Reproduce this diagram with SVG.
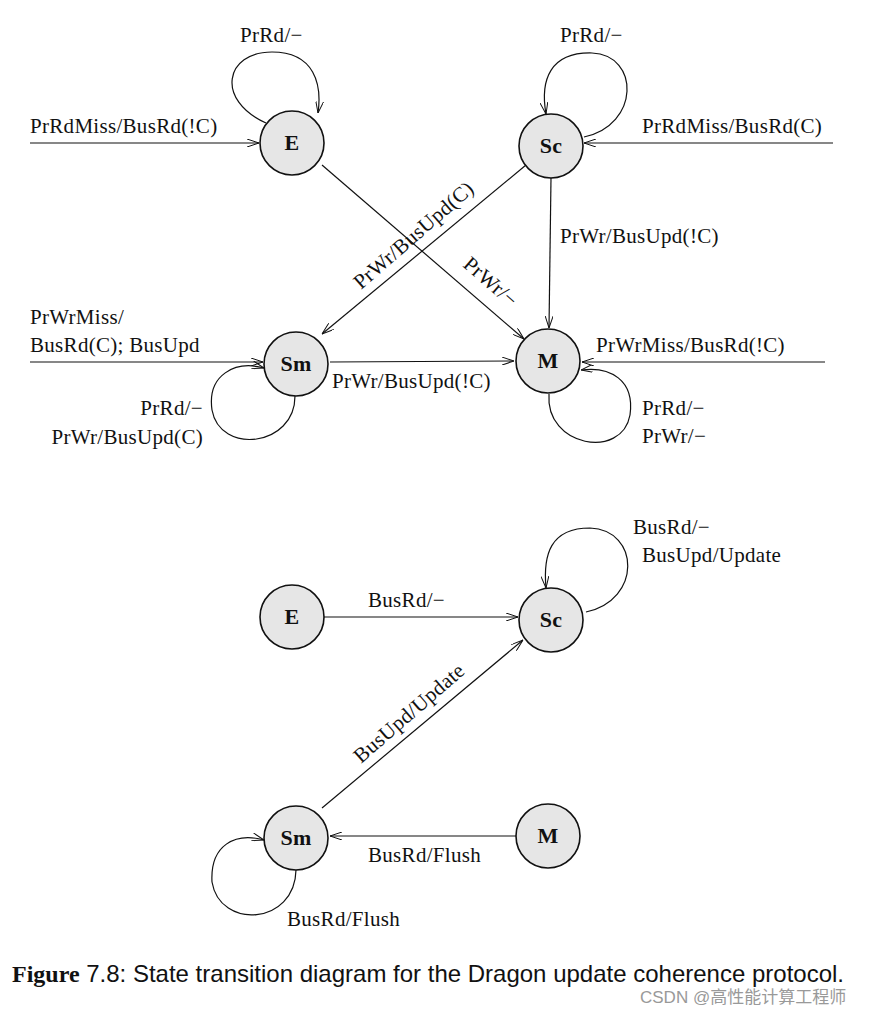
<svg xmlns="http://www.w3.org/2000/svg" width="889" height="1016" viewBox="0 0 889 1016">
<style>
text{font-family:"Liberation Serif",serif;font-size:21px;letter-spacing:0.3px;fill:#111}
.n circle{fill:#e6e6e6;stroke:#111;stroke-width:1.6}
.n text{font-weight:bold;font-size:22px;text-anchor:middle}
.c path,.c line{fill:none;stroke:#111;stroke-width:1.2;marker-end:url(#a)}
</style>
<defs><marker id="a" viewBox="0 0 12 8" refX="12" refY="4" markerWidth="12" markerHeight="8" orient="auto" markerUnits="userSpaceOnUse"><path d="M0,0 L12,4 L0,8" fill="none" stroke="#111" stroke-width="1"/></marker></defs>
<rect width="889" height="1016" fill="#fff"/>
<g class="c">
<line x1="30" y1="143" x2="259" y2="143"/>
<path d="M266,123 C215,100 225,52 272,52 C315,52 322,85 318,113"/>
<path d="M584,137 C640,125 640,55 592,53 C550,52 540,80 546,114"/>
<line x1="833" y1="143" x2="584" y2="143"/>
<line x1="322" y1="165" x2="524" y2="339"/>
<line x1="526" y1="165" x2="322" y2="334"/>
<line x1="551" y1="178" x2="549" y2="328"/>
<line x1="30" y1="362" x2="263" y2="362"/>
<line x1="330" y1="362" x2="514" y2="361"/>
<line x1="825" y1="362" x2="582" y2="362"/>
<path d="M295,396 C295,447 220,455 212,410 C207,375 235,360 264,368"/>
<path d="M549,394 C545,447 622,460 630,415 C635,380 610,366 581,370"/>
<path d="M586,612 C642,600 640,530 590,528 C550,528 543,555 546,588"/>
<line x1="324" y1="617" x2="518" y2="617"/>
<line x1="322" y1="808" x2="523" y2="640"/>
<line x1="516" y1="836" x2="330" y2="836"/>
<path d="M296,870 C295,925 220,930 212,882 C210,845 235,832 264,840"/>
</g>
<g id="E1" class="n"><circle cx="292" cy="143" r="32"/><text x="292" y="150">E</text></g>
<g id="Sc1" class="n"><circle cx="551" cy="146" r="32"/><text x="551" y="153">Sc</text></g>
<g id="Sm1" class="n"><circle cx="296" cy="364" r="32"/><text x="296" y="371">Sm</text></g>
<g id="M1" class="n"><circle cx="548" cy="361" r="32"/><text x="548" y="368">M</text></g>
<g id="E2" class="n"><circle cx="292" cy="617" r="32"/><text x="292" y="624">E</text></g>
<g id="Sc2" class="n"><circle cx="551" cy="620" r="32"/><text x="551" y="627">Sc</text></g>
<g id="Sm2" class="n"><circle cx="296" cy="838" r="32"/><text x="296" y="845">Sm</text></g>
<g id="M2" class="n"><circle cx="548" cy="836" r="32"/><text x="548" y="843">M</text></g>
<g>
<text x="30" y="133">PrRdMiss/BusRd(!C)</text>
<text x="240" y="42">PrRd/−</text>
<text x="560" y="42">PrRd/−</text>
<text x="642" y="133">PrRdMiss/BusRd(C)</text>
<text transform="translate(462,266) rotate(41)">PrWr/−</text>
<text transform="translate(361,290) rotate(-41)">PrWr/BusUpd(C)</text>
<text x="560" y="243">PrWr/BusUpd(!C)</text>
<text x="30" y="324">PrWrMiss/</text>
<text x="30" y="352">BusRd(C); BusUpd</text>
<text x="332" y="388">PrWr/BusUpd(!C)</text>
<text x="596" y="352">PrWrMiss/BusRd(!C)</text>
<text x="203" y="415" text-anchor="end">PrRd/−</text>
<text x="203" y="444" text-anchor="end">PrWr/BusUpd(C)</text>
<text x="642" y="415">PrRd/−</text>
<text x="642" y="443">PrWr/−</text>
<text x="633" y="534">BusRd/−</text>
<text x="642" y="562">BusUpd/Update</text>
<text x="368" y="607">BusRd/−</text>
<text transform="translate(361,764) rotate(-41)">BusUpd/Update</text>
<text x="368" y="862">BusRd/Flush</text>
<text x="287" y="926">BusRd/Flush</text>
<text x="12" y="982" style="font-size:24px;letter-spacing:0"><tspan font-weight="bold">Figure</tspan><tspan style="font-family:'Liberation Sans',sans-serif"> 7.8: State transition diagram for the Dragon update coherence protocol.</tspan></text>
<text x="640" y="1003" style="font-family:'Liberation Sans','Noto Sans CJK SC',sans-serif;font-size:17px;fill:#999;letter-spacing:0">CSDN @高性能计算工程师</text>
</g>
</svg>
